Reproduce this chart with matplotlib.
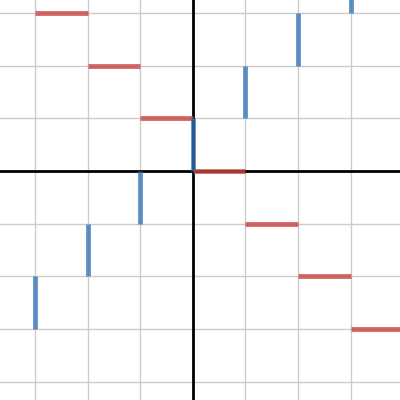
import matplotlib
matplotlib.use("Agg")
import matplotlib.pyplot as plt

# red: horizontal steps y = level on [x_start, x_start+1]
red_x_start = [-3, -2, -1, 0, 1, 2, 3]
red_level = [3, 2, 1, 0, -1, -2, -3]
# blue: vertical segments at x from y_low to y_low+1
blue_x = [-3, -2, -1, 0, 1, 2, 3]
blue_y_low = [-3, -2, -1, 0, 1, 2, 3]

fig = plt.figure(figsize=(4, 4), dpi=100)
ax = fig.add_axes([0, 0, 1, 1])
ax.set_xlim(-3.67, 3.94)
ax.set_ylim(-4.35, 3.25)
for v in range(-4, 5):
    ax.axvline(v, color="#cccccc", lw=1, zorder=0)
    ax.axhline(v, color="#cccccc", lw=1, zorder=0)
ax.axvline(0, color="black", lw=2, zorder=1)
ax.axhline(0, color="black", lw=2, zorder=1)
for xs, lv in zip(red_x_start, red_level):
    ax.plot([xs, xs + 1], [lv, lv], color="#c74440", lw=3.5, alpha=0.8, solid_capstyle="butt", zorder=3)
for bx, by in zip(blue_x, blue_y_low):
    ax.plot([bx, bx], [by, by + 1], color="#2d70b3", lw=3.5, alpha=0.75, solid_capstyle="butt", zorder=3)
ax.set_xticks([]); ax.set_yticks([])
for s in ax.spines.values():
    s.set_visible(False)
fig.savefig("out.png", dpi=100)
